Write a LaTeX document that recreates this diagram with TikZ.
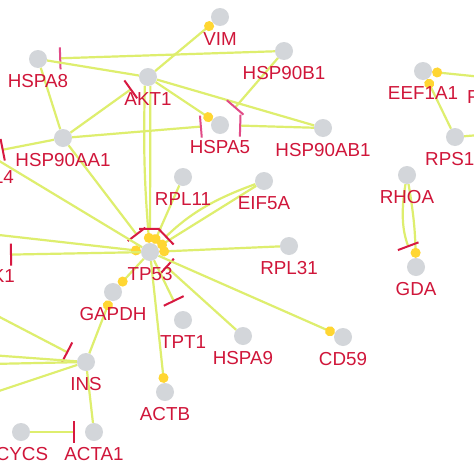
\documentclass[tikz,border=0pt]{standalone}
\usepackage{fontspec}
\setmainfont{Liberation Sans}
\usetikzlibrary{arrows.meta}
\definecolor{nodeg}{RGB}{211,214,218}
\definecolor{labr}{RGB}{208,22,58}
\definecolor{edgec}{RGB}{222,238,110}
\definecolor{doty}{RGB}{255,214,50}
\definecolor{barr}{RGB}{215,25,65}
\definecolor{barp}{RGB}{225,75,135}
\pgfdeclarelayer{bg}
\pgfsetlayers{bg,main}
\tikzset{
  gene/.style={circle,fill=nodeg,minimum size=18pt,inner sep=0pt},
  lab/.style={anchor=base,text=labr,inner sep=0pt,font=\fontsize{18.8}{20}\selectfont},
  edge/.style={draw=edgec,line width=2.2pt},
  dotend/.style={-{Circle[length=10pt,width=10pt,line width=1pt,color=doty,fill=doty]}},
  barend/.style={-{Bar[width=22pt,line width=2pt,color=barr]}},
  pbarend/.style={-{Bar[width=22pt,line width=2pt,color=barp]}},
}
\begin{document}
\begin{tikzpicture}[x=1pt,y=-1pt]
\useasboundingbox (0,0) rectangle (474,474);
\clip (0,0) rectangle (474,474);
% genes
\node[gene] (VIM) at (220,17) {};
\node[gene] (HSPA8) at (38,59) {};
\node[gene] (AKT1) at (148,77) {};
\node[gene] (HSP90B1) at (284,51) {};
\node[gene] (HSPA5) at (220,125) {};
\node[gene] (HSP90AB1) at (323,128) {};
\node[gene] (HSP90AA1) at (63,138) {};
\node[gene] (TP53) at (150,252) {};
\node[gene] (RPL11) at (183,177) {};
\node[gene] (EIF5A) at (264,181) {};
\node[gene] (RPL31) at (289,246) {};
\node[gene] (GAPDH) at (113,292) {};
\node[gene] (TPT1) at (183,320) {};
\node[gene] (HSPA9) at (243,336) {};
\node[gene] (CD59) at (343,337) {};
\node[gene] (INS) at (86,362) {};
\node[gene] (ACTB) at (165,392) {};
\node[gene] (CYCS) at (21,432) {};
\node[gene] (ACTA1) at (94,432) {};
\node[gene] (EEF1A1) at (423,71) {};
\node[gene] (RPS1) at (455,137) {};
\node[gene] (RHOA) at (407,175) {};
\node[gene] (GDA) at (416,267) {};
% off-picture ends
\coordinate (cL4) at (-14,153);
\coordinate (cW1) at (-10,234);
\coordinate (cK1) at (-12,255);
\coordinate (cI1) at (-10,312);
\coordinate (cI2) at (-10,355);
\coordinate (cI3) at (-10,364);
\coordinate (cI4) at (-10,394);
\coordinate (cF) at (492,78);
\coordinate (cR) at (492,134);
% labels
\node[lab] (VIMl) at (220,45) {VIM};
\node[lab] (HSPA8l) at (38,87) {HSPA8};
\node[lab] (AKT1l) at (148,105) {AKT1};
\node[lab] (HSP90B1l) at (284,79) {HSP90B1};
\node[lab] (HSPA5l) at (220,153) {HSPA5};
\node[lab] (HSP90AB1l) at (323,156) {HSP90AB1};
\node[lab] (HSP90AA1l) at (63,166) {HSP90AA1};
\node[lab] (TP53l) at (150,280) {TP53};
\node[lab] (RPL11l) at (183,205) {RPL11};
\node[lab] (EIF5Al) at (264,209) {EIF5A};
\node[lab] (RPL31l) at (289,274) {RPL31};
\node[lab] (GAPDHl) at (113,320) {GAPDH};
\node[lab] (TPT1l) at (183,348) {TPT1};
\node[lab] (HSPA9l) at (243,364) {HSPA9};
\node[lab] (CD59l) at (343,365) {CD59};
\node[lab] (INSl) at (86,390) {INS};
\node[lab] (ACTBl) at (165,420) {ACTB};
\node[lab] (CYCSl) at (22,460) {CYCS};
\node[lab] (ACTA1l) at (94,460) {ACTA1};
\node[lab] (EEF1A1l) at (423,99) {EEF1A1};
\node[lab,anchor=base west] (RPS1l) at (425,165) {RPS1};
\node[lab] (RHOAl) at (407,203) {RHOA};
\node[lab] (GDAl) at (416,295) {GDA};
\node[lab,anchor=base east] (L4l) at (14,183) {L4};
\node[lab,anchor=base east] (K1l) at (15,282) {K1};
\node[lab,anchor=base west] (Fl) at (467,103) {F};
% connectors
\begin{pgfonlayer}{bg}
\fill[white] (0,0) rectangle (474,474);
\draw[edge,dotend] (AKT1) -- (VIM);
\draw[edge,pbarend,shorten >=12pt] (HSP90B1) -- (HSPA8);
\draw[edge] (HSPA8) -- (AKT1);
\draw[edge] (HSPA8) -- (HSP90AA1);
\draw[edge,barend,shorten >=11pt] (HSP90AA1) -- (AKT1);
\draw[edge,dotend] (AKT1) -- (HSPA5);
\draw[edge] (AKT1) -- (HSP90AB1);
\draw[edge,pbarend,shorten >=9pt] (HSP90AA1) -- (HSPA5);
\draw[edge,pbarend,shorten >=10pt] (HSP90AB1) -- (HSPA5);
\draw[edge,pbarend,shorten >=13pt] (HSP90B1) -- (HSPA5);
\draw[edge,barend,shorten >=16pt] (HSP90AA1) -- (cL4);
\draw[edge,dotend] (AKT1.250) to[bend right=3] (TP53);
\draw[edge,barend,shorten >=13pt] (AKT1.285) -- (TP53);
\draw[edge,barend,shorten >=12pt] (HSP90AA1) -- (TP53);
\draw[edge] (cL4) -- (TP53);
\draw[edge,dotend] (cW1) -- (TP53);
\draw[edge,barend,shorten >=22pt] (TP53) -- (cK1);
\draw[edge,dotend] (RPL11) -- (TP53);
\draw[edge,dotend] (EIF5A) -- (TP53);
\draw[edge,barend,shorten >=12pt] (EIF5A) to[bend right=12] (TP53);
\draw[edge,dotend] (RPL31) -- (TP53);
\draw[edge,barend,shorten >=12pt] (HSPA9) -- (TP53);
\draw[edge,barend,shorten >=11pt] (TP53) -- (TPT1);
\draw[edge,dotend] (TP53) -- (CD59);
\draw[edge,dotend] (TP53) -- (ACTB);
\draw[edge,dotend] (TP53) -- (GAPDH);
\draw[edge,dotend] (INS) -- (GAPDH);
\draw[edge,barend,shorten >=11pt] (cI1) -- (INS);
\draw[edge] (cI2) -- (INS);
\draw[edge] (cI3) -- (INS);
\draw[edge] (cI4) -- (INS);
\draw[edge] (INS) -- (ACTA1);
\draw[edge,barend,shorten >=10pt] (CYCS) -- (ACTA1);
\draw[edge,dotend] (cF) -- (EEF1A1);
\draw[edge,dotend] (RPS1) -- (EEF1A1);
\draw[edge] (RPS1) -- (cR);
\draw[edge,dotend] (RHOA) to[bend left=4] (GDA);
\draw[edge,barend,shorten >=12pt] (RHOA) to[bend right=15] (GDA);
\end{pgfonlayer}
\end{tikzpicture}
\end{document}
